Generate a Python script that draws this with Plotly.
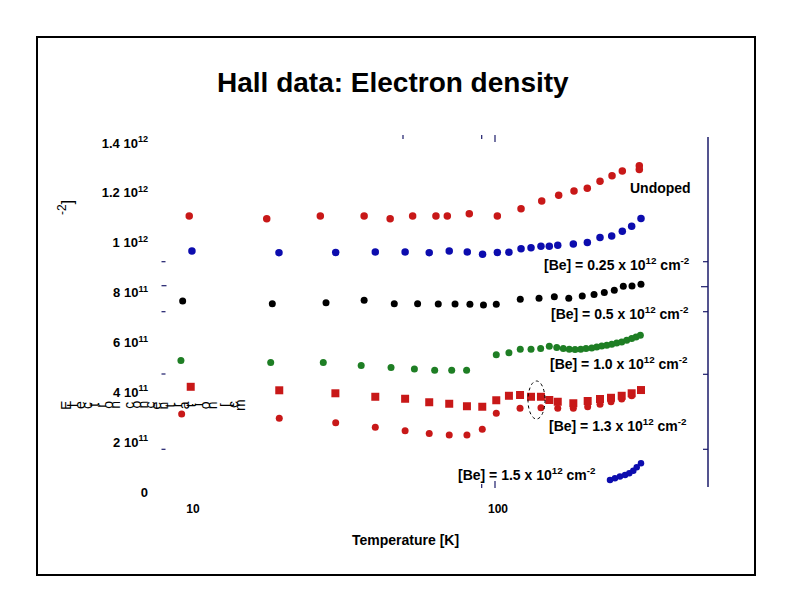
import plotly.graph_objects as go

# ---------------- data (temperature in K, density in units of 1e12 cm^-2) ----------------
T_undoped = [9.72, 17.45, 26.15, 36.4, 44.3, 52.5, 62.6, 68.2, 80.5, 99.5, 119, 139.1, 158.1,
             177.5, 196.2, 216, 236.5, 255.6, 290.6, 290.6]
n_undoped = [1.107, 1.096, 1.107, 1.107, 1.096, 1.107, 1.107, 1.107, 1.116, 1.107, 1.136, 1.167,
             1.190, 1.207, 1.218, 1.247, 1.269, 1.288, 1.309, 1.294]

T_025 = [9.92, 19.14, 29.37, 39.6, 49.6, 59.5, 69.2, 79.3, 89.0, 99.5, 108.6, 119, 128.3, 138.3,
         147.3, 157, 176.6, 196.3, 216, 235.9, 255.6, 274.3, 294.3]
n_025 = [0.967, 0.960, 0.961, 0.963, 0.963, 0.960, 0.967, 0.963, 0.954, 0.961, 0.962, 0.976,
         0.980, 0.986, 0.986, 0.990, 0.995, 1.001, 1.021, 1.027, 1.046, 1.066, 1.097]

T_05 = [9.25, 18.2, 27.3, 36.4, 45.7, 54.5, 63.7, 72.3, 80.9, 89.6, 98.7, 118.3, 136.3, 153,
        170.6, 188.9, 206.5, 223.1, 240.6, 257.5, 275, 294.3]
n_05 = [0.766, 0.755, 0.759, 0.769, 0.755, 0.755, 0.754, 0.754, 0.753, 0.750, 0.753, 0.773,
        0.777, 0.783, 0.777, 0.786, 0.792, 0.800, 0.809, 0.825, 0.826, 0.833]

T_10 = [9.13, 17.98, 26.74, 35.6, 44.6, 53.2, 62.0, 70.5, 78.9, 98.7, 108.6, 118.3, 128.3, 138.0,
        147.3, 155.8, 163.7, 171.3, 178.9, 186.7, 194.3, 202.9, 210.7, 218.8, 227.3, 236, 245,
        254.4, 264.2, 274.3, 283.5, 292.9]
n_10 = [0.527, 0.519, 0.519, 0.507, 0.499, 0.493, 0.488, 0.488, 0.488, 0.551, 0.559, 0.573,
        0.573, 0.576, 0.585, 0.580, 0.576, 0.573, 0.572, 0.573, 0.576, 0.578, 0.582, 0.586,
        0.589, 0.593, 0.598, 0.602, 0.609, 0.616, 0.622, 0.629]

T_13a = [9.83, 19.18, 29.3, 39.6, 49.6, 59.5, 69.2, 79.1, 88.8, 98.7, 108.6, 118.1, 128.3, 138.3,
         147.3, 157, 176.6, 196.8, 216, 234.7, 254.4, 274.3, 294.3]
n_13a = [0.422, 0.408, 0.396, 0.382, 0.374, 0.360, 0.354, 0.344, 0.342, 0.368, 0.386, 0.389,
         0.382, 0.382, 0.369, 0.362, 0.356, 0.365, 0.373, 0.378, 0.386, 0.396, 0.409]

T_13b = [9.18, 19.18, 29.37, 39.6, 49.6, 59.5, 69.2, 79.1, 88.8, 98.7, 118.1, 138.3, 157, 176.6,
         196.8, 216, 234.7, 254.4, 274.3]
n_13b = [0.313, 0.296, 0.278, 0.260, 0.246, 0.235, 0.229, 0.229, 0.252, 0.316, 0.336, 0.338,
         0.336, 0.336, 0.342, 0.352, 0.362, 0.373, 0.386]

T_15 = [232.9, 241.8, 251.1, 261, 269.4, 277.7, 285, 294.3]
n_15 = [0.048, 0.055, 0.062, 0.068, 0.075, 0.085, 0.099, 0.115]

y_tickvals = [0, 0.2, 0.4, 0.6, 0.8, 1.0, 1.2, 1.4]
y_ticktext = ["0", "2 10<sup>11</sup>", "4 10<sup>11</sup>", "6 10<sup>11</sup>",
              "8 10<sup>11</sup>", "1 10<sup>12</sup>", "1.2 10<sup>12</sup>", "1.4 10<sup>12</sup>"]
x_tickvals = [10, 100]
x_ticktext = ["10", "100"]

series_labels = ["Undoped",
                 "[Be] = 0.25 x 10<sup>12</sup> cm<sup>-2</sup>",
                 "[Be] = 0.5 x 10<sup>12</sup> cm<sup>-2</sup>",
                 "[Be] = 1.0 x 10<sup>12</sup> cm<sup>-2</sup>",
                 "[Be] = 1.3 x 10<sup>12</sup> cm<sup>-2</sup>",
                 "[Be] = 1.5 x 10<sup>12</sup> cm<sup>-2</sup>"]
ylabel_garbled = "Electron concentration [cm"

# ---------------- style ----------------
RED = "#c81818"
BLUE = "#0c0cae"
GREEN = "#1e7e24"
BLACK = "#000000"
NAVY = "#1b1b6a"
FONT = "Arial, Liberation Sans, sans-serif"

W, H = 792, 612
L, R, TOP, BOT = 162, 708, 130, 500


def PX(x):
    return (x - L) / (R - L)


def PY(y):
    return (BOT - y) / (BOT - TOP)


fig = go.Figure()


def add(xs, ys, color, symbol="circle", size=7):
    fig.add_trace(go.Scatter(x=xs, y=ys, mode="markers",
                             marker=dict(color=color, symbol=symbol, size=size, line=dict(width=0)),
                             showlegend=False, hoverinfo="skip"))


add(T_undoped, n_undoped, RED, size=7.5)
add(T_025, n_025, BLUE, size=7.5)
add(T_05, n_05, BLACK, size=7)
add(T_10, n_10, GREEN, size=7)
add(T_13b, n_13b, RED, size=7)
add(T_13a, n_13a, RED, symbol="square", size=8)
add(T_15, n_15, BLUE, size=6.5)

annotations = []
shapes = []

# title
annotations.append(dict(text="<b>Hall data: Electron density</b>", x=PX(393), y=PY(83),
                        xref="paper", yref="paper", showarrow=False,
                        font=dict(family=FONT, size=28, color="black"),
                        xanchor="center", yanchor="middle"))
# x title
annotations.append(dict(text="<b>Temperature [K]</b>", x=PX(405), y=PY(540),
                        xref="paper", yref="paper", showarrow=False,
                        font=dict(family=FONT, size=14, color="black"),
                        xanchor="center", yanchor="middle"))

# series labels
label_pos = [(628, 188), (542, 264), (549, 313), (548, 363), (547, 425), (456, 474)]
for txt, (lx, ly) in zip(series_labels, label_pos):
    annotations.append(dict(text="<b>" + txt + "</b>", x=PX(lx), y=PY(ly),
                            xref="paper", yref="paper", showarrow=False,
                            font=dict(family=FONT, size=14, color="black"),
                            xanchor="left", yanchor="middle"))

# garbled y-axis title (rotated glyphs laid out horizontally)
n = len(ylabel_garbled)
x0, x1 = 66, 240
for i, ch in enumerate(ylabel_garbled):
    if ch == " ":
        continue
    cx = x0 + (x1 - x0) * i / (n - 1)
    annotations.append(dict(text=ch, x=PX(cx), y=PY(405), xref="paper", yref="paper",
                            showarrow=False, textangle=-90,
                            font=dict(family=FONT, size=14, color="black"),
                            xanchor="center", yanchor="middle"))
annotations.append(dict(text="<sup>-2</sup>]", x=PX(66), y=PY(207), xref="paper", yref="paper",
                        showarrow=False, textangle=-90,
                        font=dict(family=FONT, size=17, color="black"),
                        xanchor="center", yanchor="middle"))

# outer frame
shapes.append(dict(type="rect", xref="paper", yref="paper", x0=PX(37), x1=PX(755),
                   y0=PY(575), y1=PY(37), line=dict(color="black", width=2)))
# right axis line
shapes.append(dict(type="line", xref="paper", yref="paper", x0=PX(708), x1=PX(708),
                   y0=PY(487), y1=PY(137), line=dict(color=NAVY, width=1.5)))
for ty, ln in [(261.7, 5), (286.7, 7), (311.7, 5), (374.3, 5), (449.3, 5)]:
    shapes.append(dict(type="line", xref="paper", yref="paper", x0=PX(708 - ln), x1=PX(708),
                       y0=PY(ty), y1=PY(ty), line=dict(color=NAVY, width=1.2)))
# stray left ticks
for ty, ln in [(261.7, 4), (285.7, 5), (311.7, 4), (374.0, 4), (449.3, 4)]:
    shapes.append(dict(type="line", xref="paper", yref="paper", x0=PX(161.5), x1=PX(161.5 + ln),
                       y0=PY(ty), y1=PY(ty), line=dict(color=NAVY, width=1.2)))
# stray top / bottom ticks
for tx, ya, yb in [(403, 135, 139), (481.7, 135, 139), (495, 135, 142),
                   (481.7, 484, 488), (495, 481, 488)]:
    shapes.append(dict(type="line", xref="paper", yref="paper", x0=PX(tx), x1=PX(tx),
                       y0=PY(ya), y1=PY(yb), line=dict(color=NAVY, width=1.2)))
# dotted ellipse
shapes.append(dict(type="circle", xref="paper", yref="paper", x0=PX(528), x1=PX(545),
                   y0=PY(419), y1=PY(381), line=dict(color="black", width=1, dash="dot")))

fig.update_layout(
    width=W, height=H,
    margin=dict(l=L, r=W - R, t=TOP, b=H - BOT, pad=0),
    paper_bgcolor="white", plot_bgcolor="white",
    font=dict(family=FONT, color="black"),
    xaxis=dict(type="log", range=[0.8984, 2.6885], tickvals=x_tickvals, ticktext=x_ticktext,
               showgrid=False, zeroline=False, showline=False, ticks="",
               tickfont=dict(family=FONT, size=12, color="black", weight="bold")),
    yaxis=dict(range=[-0.0321, 1.4521], tickvals=y_tickvals, ticktext=y_ticktext,
               showgrid=False, zeroline=False, showline=False, ticks="",
               ticklabelstandoff=13,
               tickfont=dict(family=FONT, size=13, color="black", weight="bold")),
    annotations=annotations, shapes=shapes,
)

fig.write_html("out.html")
